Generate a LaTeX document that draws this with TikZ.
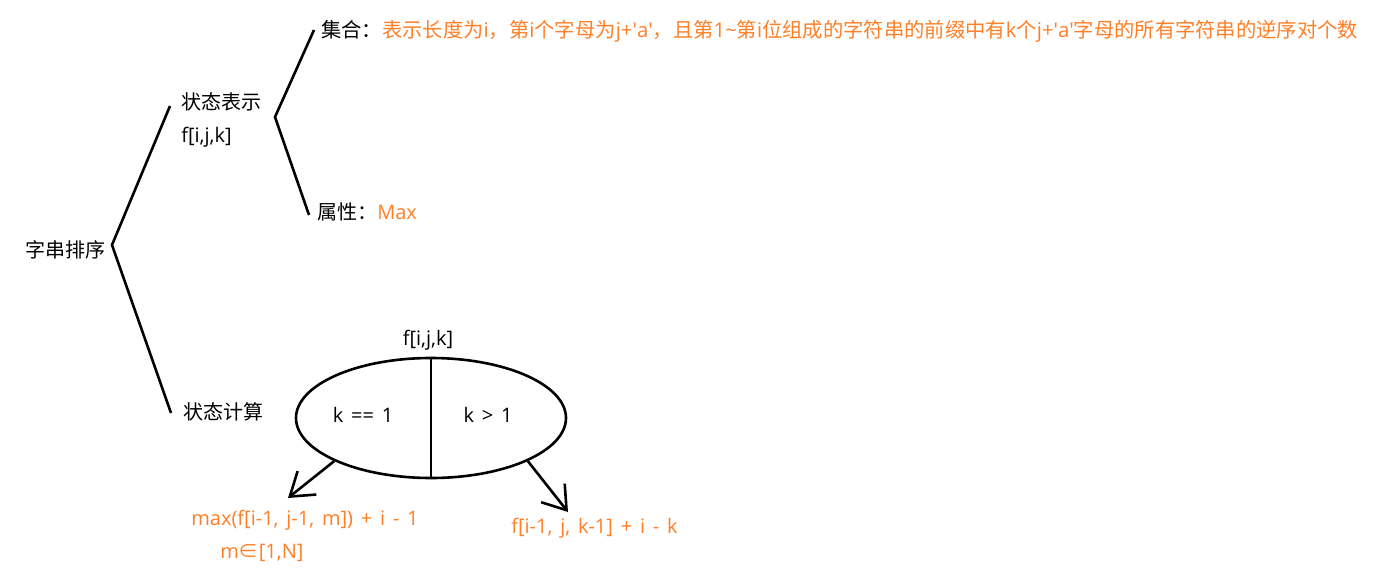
\documentclass[tikz,border=0pt]{standalone}
\usepackage{fontspec}
\setmainfont{Noto Sans CJK SC}
\newfontfamily\latfont{Open Sans}[WordSpace=1.5]
\newcommand{\lat}[1]{{\latfont #1}}
\usepackage{xcolor}
\usetikzlibrary{shapes.geometric, arrows.meta, positioning}
\definecolor{paintorange}{RGB}{255,127,39}

\begin{document}
\begin{tikzpicture}[x=1pt, y=-1pt, line width=2.6pt,
    every node/.style={font=\fontsize{20pt}{24pt}\selectfont, inner sep=0pt},
    lbl/.style={anchor=west},
    hl/.style={text=paintorange},
    en/.style={font=\fontsize{20pt}{24pt}\latfont}]
    \useasboundingbox (0,0) rectangle (1385,573);

    % 第一层
    \node[lbl] (root) at (24,250) {字串排序};
    \node[lbl] (rep) at (180,102) {状态表示};
    \node[lbl,en] (frep) at (180,137) {f[i,j,k]};
    \node[lbl] (calc) at (182,412) {状态计算};
    \coordinate (rootv) at (112,245);
    \coordinate (repend) at (170,106);
    \coordinate (calcend) at (171,413);
    \draw (repend) -- (rootv) -- (calcend);

    % 状态表示
    \node[lbl,font=\fontsize{20.3pt}{24pt}\selectfont] (set) at (320,31) {集合：\textcolor{paintorange}{表示长度为\lat{i}，第\lat{i}个字母为\lat{j+\textquotesingle a\textquotesingle}，且第\lat{1\textasciitilde}第\lat{i}位组成的字符串的前缀中有\lat{k}个\lat{j+\textquotesingle a\textquotesingle}字母的所有字符串的逆序对个数}};
    \node[lbl] (attr) at (316,212) {属性：\textcolor{paintorange}{\lat{Max}}};
    \coordinate (repv) at (275,117);
    \coordinate (setend) at (314,30);
    \coordinate (attrend) at (309,215);
    \draw (setend) -- (repv) -- (attrend);

    % 状态计算
    \node[draw, ellipse, minimum width=270pt, minimum height=120pt] (fsplit) at (431,418) {};
    \draw (fsplit.north) -- (fsplit.south);
    \node[en] (ftop) at (428,340) {f[i,j,k]};
    \node[en] (kone) at (363,415) {k == 1};
    \node[en] (kmore) at (488,415) {k > 1};

    \coordinate (lend) at (288,498);
    \coordinate (rend) at (568,512);
    \draw[-{Straight Barb[length=22pt,width=30pt]}] (fsplit.204) -- (lend);
    \draw[-{Straight Barb[length=22pt,width=30pt]}] (fsplit.-24) -- (rend);

    \node[lbl,hl,en] (lres) at (190,520) {max(f[i-1, j-1, m]) + i - 1};
    \node[lbl,hl] (lrange) at (219,553) {\lat{m}∈\lat{[1,N]}};
    \node[lbl,hl,en] (rres) at (510,528) {f[i-1, j, k-1] + i - k};
  \end{tikzpicture}
\end{document}
